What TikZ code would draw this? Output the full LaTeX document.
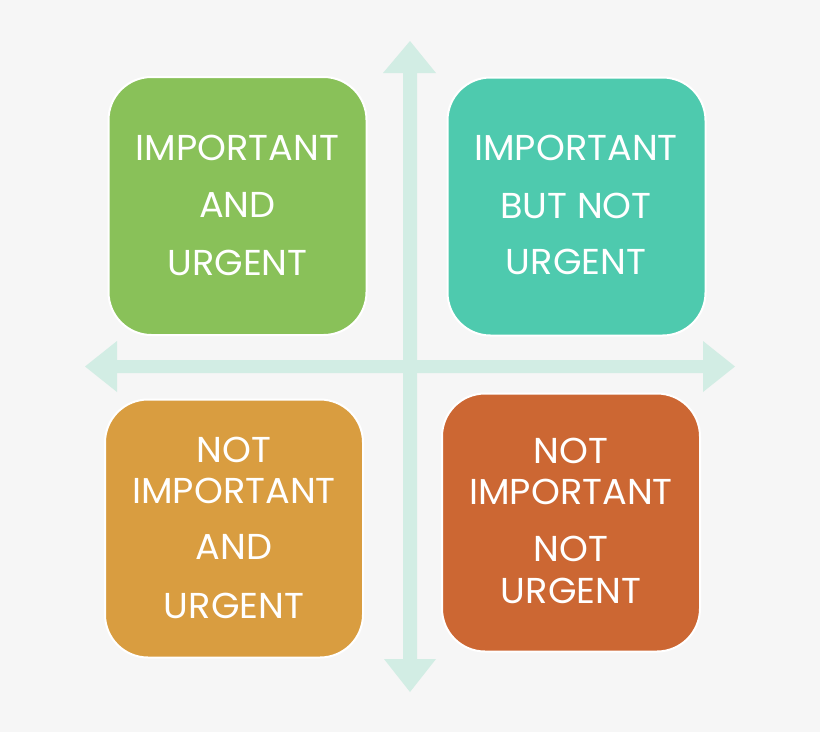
\documentclass[tikz,border=0pt]{standalone}
\usepackage{fontspec}
\setmainfont{Poppins}[FakeStretch=1.02]
\definecolor{bgc}{HTML}{F6F6F6}
\definecolor{arrowc}{HTML}{D2EDE4}
\definecolor{qgreen}{HTML}{89C159}
\definecolor{qteal}{HTML}{4ECAAE}
\definecolor{qorange}{HTML}{D99D40}
\definecolor{qrust}{HTML}{CC6733}
\tikzset{
  quad/.style={draw=white, line width=2pt, rounded corners=43pt, inner sep=0pt,
    minimum width=258pt, minimum height=258pt},
  lbl/.style={anchor=base, inner sep=0pt, text=white, font=\fontsize{36}{40}\selectfont},
  axis/.style={fill=arrowc, draw=none}
}
\begin{document}
\begin{tikzpicture}[x=1pt,y=-1pt]
\fill[bgc] (0,0) rectangle (820,732);
\useasboundingbox (0,0) rectangle (820,732);
% axes
\fill[axis] (403,73) -- (383,73) -- (410,41) -- (436,73) -- (417,73) -- (417,659) -- (436,659) -- (410,692) -- (384,659) -- (403,659) -- cycle;
\fill[axis] (117,360) -- (117,341) -- (85,366.5) -- (117,392) -- (117,373) -- (703,373) -- (703,392) -- (735,366.5) -- (703,341) -- (703,360) -- cycle;
% boxes
\node[quad, fill=qgreen] (tl) at (237.5,206) {};
\node[quad, fill=qteal] (tr) at (576.5,206.5) {};
\node[quad, fill=qorange] (bl) at (234,528.5) {};
\node[quad, fill=qrust] (br) at (571,522.5) {};
% labels
\node[lbl] (tl1) at (237.5,160) {IMPORTANT};
\node[lbl] (tl2) at (237.5,217) {AND};
\node[lbl] (tl3) at (237.5,275) {URGENT};
\node[lbl] (tr1) at (576,160) {IMPORTANT};
\node[lbl] (tr2) at (576,218) {BUT NOT};
\node[lbl] (tr3) at (576,274) {URGENT};
\node[lbl] (bl1) at (234,462) {NOT};
\node[lbl] (bl2) at (234,503) {IMPORTANT};
\node[lbl] (bl3) at (234,559) {AND};
\node[lbl] (bl4) at (234,618) {URGENT};
\node[lbl] (br1) at (571,463) {NOT};
\node[lbl] (br2) at (571,504) {IMPORTANT};
\node[lbl] (br3) at (571,561) {NOT};
\node[lbl] (br4) at (571,603) {URGENT};
\end{tikzpicture}
\end{document}
